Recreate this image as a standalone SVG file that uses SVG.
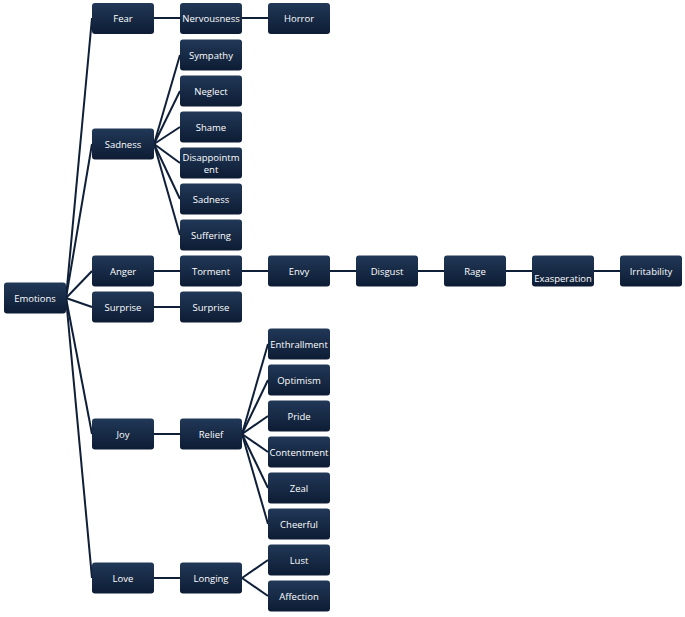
<svg xmlns="http://www.w3.org/2000/svg" width="685" height="617" viewBox="0 0 685 617">
<defs><linearGradient id="g" x1="0" y1="0" x2="0" y2="1"><stop offset="0" stop-color="#213857"/><stop offset="1" stop-color="#0d1c34"/></linearGradient></defs>
<style>
rect{fill:url(#g);}
text{fill:#fff;font-family:"Open Sans","Liberation Sans",sans-serif;font-size:9.5px;text-anchor:middle;dominant-baseline:central;}
line{stroke:#0f1f38;stroke-width:2;}
</style>
<rect width="685" height="617" fill="#fff" style="fill:#fff"/>
<g id="connectors">
<line x1="66" y1="298" x2="92" y2="18"/><line x1="66" y1="298" x2="92" y2="144"/><line x1="66" y1="298" x2="92" y2="271"/><line x1="66" y1="298" x2="92" y2="307"/><line x1="66" y1="298" x2="92" y2="434"/><line x1="66" y1="298" x2="92" y2="578"/>
<line x1="154" y1="18" x2="180" y2="18"/><line x1="242" y1="18" x2="268" y2="18"/>
<line x1="154" y1="144" x2="180" y2="55"/><line x1="154" y1="144" x2="180" y2="91"/><line x1="154" y1="144" x2="180" y2="127"/><line x1="154" y1="144" x2="180" y2="163"/><line x1="154" y1="144" x2="180" y2="199"/><line x1="154" y1="144" x2="180" y2="235"/>
<line x1="154" y1="271" x2="620" y2="271"/>
<line x1="154" y1="307" x2="180" y2="307"/>
<line x1="154" y1="434" x2="180" y2="434"/>
<line x1="242" y1="434" x2="268" y2="344"/><line x1="242" y1="434" x2="268" y2="380"/><line x1="242" y1="434" x2="268" y2="416"/><line x1="242" y1="434" x2="268" y2="452"/><line x1="242" y1="434" x2="268" y2="488"/><line x1="242" y1="434" x2="268" y2="524"/>
<line x1="154" y1="578" x2="180" y2="578"/><line x1="242" y1="578" x2="268" y2="560"/><line x1="242" y1="578" x2="268" y2="596"/>
</g>
<g id="n-emotions"><rect x="4" y="282.5" width="62" height="31" rx="3"/><text x="35" y="298">Emotions</text></g>
<g id="n-fear"><rect x="92" y="3" width="62" height="31" rx="3"/><text x="123" y="18">Fear</text></g>
<g id="n-nervousness"><rect x="180" y="3" width="62" height="31" rx="3"/><text x="211" y="18">Nervousness</text></g>
<g id="n-horror"><rect x="268" y="3" width="62" height="31" rx="3"/><text x="299" y="18">Horror</text></g>
<g id="n-sadness"><rect x="92" y="128.5" width="62" height="31" rx="3"/><text x="123" y="144">Sadness</text></g>
<g id="n-sympathy"><rect x="180" y="39.5" width="62" height="31" rx="3"/><text x="211" y="55">Sympathy</text></g>
<g id="n-neglect"><rect x="180" y="75.5" width="62" height="31" rx="3"/><text x="211" y="91">Neglect</text></g>
<g id="n-shame"><rect x="180" y="111.5" width="62" height="31" rx="3"/><text x="211" y="127">Shame</text></g>
<g id="n-disappointment"><rect x="180" y="147.5" width="62" height="31" rx="3"/><text x="211" y="157">Disappointm</text><text x="211" y="169">ent</text></g>
<g id="n-sadness2"><rect x="180" y="183.5" width="62" height="31" rx="3"/><text x="211" y="199">Sadness</text></g>
<g id="n-suffering"><rect x="180" y="219.5" width="62" height="31" rx="3"/><text x="211" y="235">Suffering</text></g>
<g id="n-anger"><rect x="92" y="255.5" width="62" height="31" rx="3"/><text x="123" y="271">Anger</text></g>
<g id="n-torment"><rect x="180" y="255.5" width="62" height="31" rx="3"/><text x="211" y="271">Torment</text></g>
<g id="n-envy"><rect x="268" y="255.5" width="62" height="31" rx="3"/><text x="299" y="271">Envy</text></g>
<g id="n-disgust"><rect x="356" y="255.5" width="62" height="31" rx="3"/><text x="387" y="271">Disgust</text></g>
<g id="n-rage"><rect x="444" y="255.5" width="62" height="31" rx="3"/><text x="475" y="271">Rage</text></g>
<g id="n-exasperation"><rect x="532" y="255.5" width="62" height="31" rx="3"/><text x="563" y="278">Exasperation</text></g>
<g id="n-irritability"><rect x="620" y="255.5" width="62" height="31" rx="3"/><text x="651" y="271">Irritability</text></g>
<g id="n-surprise"><rect x="92" y="291.5" width="62" height="31" rx="3"/><text x="123" y="307">Surprise</text></g>
<g id="n-surprise2"><rect x="180" y="291.5" width="62" height="31" rx="3"/><text x="211" y="307">Surprise</text></g>
<g id="n-joy"><rect x="92" y="418.5" width="62" height="31" rx="3"/><text x="123" y="434">Joy</text></g>
<g id="n-relief"><rect x="180" y="418.5" width="62" height="31" rx="3"/><text x="211" y="434">Relief</text></g>
<g id="n-enthrallment"><rect x="268" y="328.5" width="62" height="31" rx="3"/><text x="299" y="344">Enthrallment</text></g>
<g id="n-optimism"><rect x="268" y="364.5" width="62" height="31" rx="3"/><text x="299" y="380">Optimism</text></g>
<g id="n-pride"><rect x="268" y="400.5" width="62" height="31" rx="3"/><text x="299" y="416">Pride</text></g>
<g id="n-contentment"><rect x="268" y="436.5" width="62" height="31" rx="3"/><text x="299" y="452">Contentment</text></g>
<g id="n-zeal"><rect x="268" y="472.5" width="62" height="31" rx="3"/><text x="299" y="488">Zeal</text></g>
<g id="n-cheerful"><rect x="268" y="508.5" width="62" height="31" rx="3"/><text x="299" y="524">Cheerful</text></g>
<g id="n-love"><rect x="92" y="562.5" width="62" height="31" rx="3"/><text x="123" y="578">Love</text></g>
<g id="n-longing"><rect x="180" y="562.5" width="62" height="31" rx="3"/><text x="211" y="578">Longing</text></g>
<g id="n-lust"><rect x="268" y="544.5" width="62" height="31" rx="3"/><text x="299" y="560">Lust</text></g>
<g id="n-affection"><rect x="268" y="580.5" width="62" height="31" rx="3"/><text x="299" y="596">Affection</text></g>
</svg>
